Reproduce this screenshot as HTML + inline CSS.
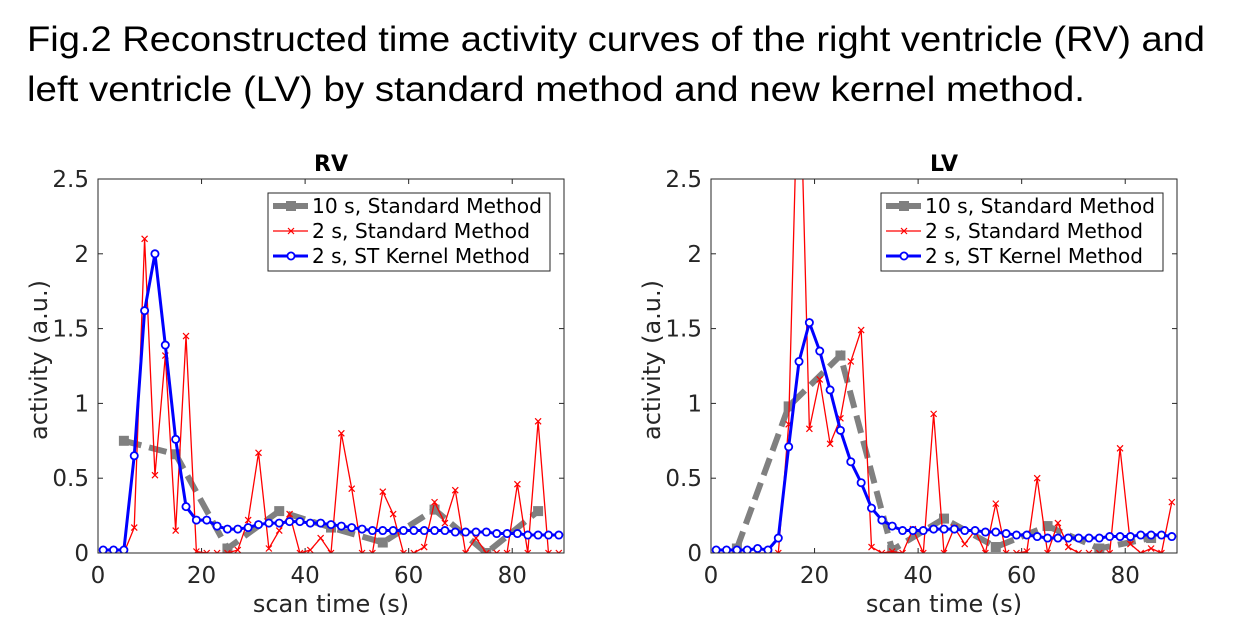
<!DOCTYPE html>
<html><head><meta charset="utf-8"><style>
html,body{margin:0;padding:0;background:#fff;}
svg{display:block;}
text{font-family:"DejaVu Sans","Liberation Sans",sans-serif;}
</style></head><body>
<svg id="fig" width="1255" height="617" viewBox="0 0 1255 617">
<text x="27" y="51" font-size="35" textLength="1178" lengthAdjust="spacingAndGlyphs" style="font-family:'Liberation Sans',sans-serif" fill="#000">Fig.2 Reconstructed time activity curves of the right ventricle (RV) and</text>
<text x="27" y="101" font-size="35" textLength="1058" lengthAdjust="spacingAndGlyphs" style="font-family:'Liberation Sans',sans-serif" fill="#000">left ventricle (LV) by standard method and new kernel method.</text>
<g id="panels"></g>
</svg>
<script>
const tStd = [1,3,5,7,9,11,13,15,17,19,21,23,25,27,29,31,33,35,37,39,41,43,45,47,49,51,53,55,57,59,61,63,65,67,69,71,73,75,77,79,81,83,85,87,89];
const t10 = [5,15,25,35,45,55,65,75,85];
const rvGray = [0.75,0.66,0.03,0.28,0.17,0.07,0.29,0.0,0.28];
const rvRed = [0,0,0,0.17,2.1,0.52,1.32,0.15,1.45,0.01,0,0,0,0.02,0.22,0.67,0.03,0.15,0.26,0,0.02,0.1,0,0.8,0.43,0,0,0.41,0.26,0,0,0.04,0.34,0.2,0.42,0,0.1,0,0,0,0.46,0,0.88,0,0];
const rvBlue = [0.02,0.02,0.02,0.65,1.62,2.0,1.39,0.76,0.31,0.22,0.22,0.18,0.16,0.16,0.17,0.19,0.2,0.2,0.21,0.21,0.2,0.2,0.19,0.18,0.17,0.16,0.15,0.15,0.15,0.15,0.15,0.15,0.15,0.15,0.14,0.14,0.14,0.14,0.13,0.13,0.13,0.12,0.12,0.12,0.12];
const lvGray = [0.03,0.98,1.32,0.02,0.23,0.04,0.18,0.03,0.1];
const lvRed = [0,0,0,0,0,0,0,0.86,3.5,0.83,1.16,0.73,0.9,1.28,1.49,0.04,0,0.01,0,0.16,0,0.93,0,0.17,0.06,0.15,0,0.33,0,0,0.01,0.5,0,0.2,0.04,0,0,0,0,0.7,0.06,0,0.03,0,0.34];
const lvBlue = [0.02,0.02,0.02,0.02,0.03,0.02,0.1,0.71,1.28,1.54,1.35,1.09,0.82,0.61,0.47,0.3,0.22,0.18,0.15,0.15,0.15,0.16,0.16,0.16,0.15,0.15,0.14,0.14,0.13,0.12,0.12,0.11,0.1,0.1,0.1,0.1,0.1,0.1,0.11,0.11,0.11,0.12,0.12,0.12,0.11];
const xTicks = [0,20,40,60,80];
const yTicks = [0,0.5,1,1.5,2,2.5];
const yTickLabels = ['0','0.5','1','1.5','2','2.5'];
const legendLabels = ['10 s, Standard Method','2 s, Standard Method','2 s, ST Kernel Method'];

const NS='http://www.w3.org/2000/svg';
function mk(tag, attrs, parent){const e=document.createElementNS(NS,tag);for(const k in attrs)e.setAttribute(k,attrs[k]);parent.appendChild(e);return e;}
const root=document.getElementById('panels');

function panel(id, left, title, gray, red, blue){
  const L=left, R=left+466, T=179, B=553;
  const xs=v=>L+v*(R-L)/90, ys=v=>B-v*(B-T)/2.5;
  const g=mk('g',{},root);
  
  
  const cp=mk('clipPath',{id:'clip-'+id},g); mk('rect',{x:L,y:T,width:R-L,height:B-T},cp);
  xTicks.forEach(v=>{
    mk('line',{x1:xs(v),x2:xs(v),y1:B,y2:B-5,stroke:'#262626'},g);
    mk('line',{x1:xs(v),x2:xs(v),y1:T,y2:T+5,stroke:'#262626'},g);
    const tx=mk('text',{x:xs(v),y:B+30,'font-size':23,'text-anchor':'middle',fill:'#262626'},g);tx.textContent=v;
    
    
  });
  yTicks.forEach((v,i)=>{
    mk('line',{x1:L,x2:L+5,y1:ys(v),y2:ys(v),stroke:'#262626'},g);
    mk('line',{x1:R,x2:R-5,y1:ys(v),y2:ys(v),stroke:'#262626'},g);
    const tx=mk('text',{x:L-9,y:ys(v)+8,'font-size':23,'text-anchor':'end',fill:'#262626'},g);tx.textContent=yTickLabels[i];
    
    
  });
  const cg=mk('g',{'clip-path':'url(#clip-'+id+')'},g);
  const pts=(xa,ya)=>xa.map((x,i)=>xs(x)+','+ys(ya[i])).join(' ');
  const gl=mk('polyline',{points:pts(t10,gray),fill:'none',stroke:'#808080','stroke-width':6,'stroke-dasharray':'18,8'},cg);
  
  
  t10.forEach((x,i)=>mk('rect',{x:xs(x)-5,y:ys(gray[i])-5,width:10,height:10,fill:'#808080'},cg));
  const rl=mk('polyline',{points:pts(tStd,red),fill:'none',stroke:'#ff0000','stroke-width':1.3},cg);
  
  
  tStd.forEach((x,i)=>{const cx=xs(x),cy=ys(red[i]);mk('path',{d:`M${cx-3},${cy-3}L${cx+3},${cy+3}M${cx-3},${cy+3}L${cx+3},${cy-3}`,stroke:'#ff0000','stroke-width':1.2},cg);});
  const bl=mk('polyline',{points:pts(tStd,blue),fill:'none',stroke:'#0000ff','stroke-width':3},cg);
  
  
  tStd.forEach((x,i)=>mk('circle',{cx:xs(x),cy:ys(blue[i]),r:3.6,fill:'#fff',stroke:'#0000ff','stroke-width':1.8},cg));
  mk('rect',{x:L,y:T,width:R-L,height:B-T,fill:'none',stroke:'#262626','stroke-width':1},g);
  const lg=mk('g',{},g);
  
  
  const lx=L+170;
  mk('rect',{x:lx,y:193,width:282,height:78,fill:'#fff',stroke:'#262626'},lg);
  const rowY=[206,231,256];
  mk('line',{x1:lx+5,x2:lx+40,y1:rowY[0],y2:rowY[0],stroke:'#808080','stroke-width':6},lg);
  mk('rect',{x:lx+18,y:rowY[0]-5,width:10,height:10,fill:'#808080'},lg);
  mk('line',{x1:lx+5,x2:lx+40,y1:rowY[1],y2:rowY[1],stroke:'#ff0000','stroke-width':1.3},lg);
  mk('path',{d:`M${lx+20},${rowY[1]-3}l6,6M${lx+20},${rowY[1]+3}l6,-6`,stroke:'#ff0000','stroke-width':1.2},lg);
  mk('line',{x1:lx+5,x2:lx+40,y1:rowY[2],y2:rowY[2],stroke:'#0000ff','stroke-width':3},lg);
  mk('circle',{cx:lx+23,cy:rowY[2],r:3.6,fill:'#fff',stroke:'#0000ff','stroke-width':1.8},lg);
  legendLabels.forEach((s,i)=>{const tx=mk('text',{x:lx+44,y:rowY[i]+7,'font-size':20.5,textLength:i==2?218:(i==0?230:218),lengthAdjust:'spacingAndGlyphs',fill:'#000'},lg);tx.textContent=s;
    
    });
  const tt=mk('text',{x:(L+R)/2,y:171,'font-size':22,'font-weight':'bold','text-anchor':'middle',fill:'#000'},g);tt.textContent=title;
  
  
  const xl=mk('text',{x:(L+R)/2,y:612,'font-size':24,'text-anchor':'middle',fill:'#262626'},g);xl.textContent='scan time (s)';
  
  
  const yl=mk('text',{x:0,y:0,'font-size':24,'text-anchor':'middle',fill:'#262626',transform:`translate(${L-51},${(T+B)/2-6}) rotate(-90)`},g);yl.textContent='activity (a.u.)';
  
  
}
panel('rv',98,'RV',rvGray,rvRed,rvBlue);
panel('lv',711,'LV',lvGray,lvRed,lvBlue);
</script>
</body></html>
